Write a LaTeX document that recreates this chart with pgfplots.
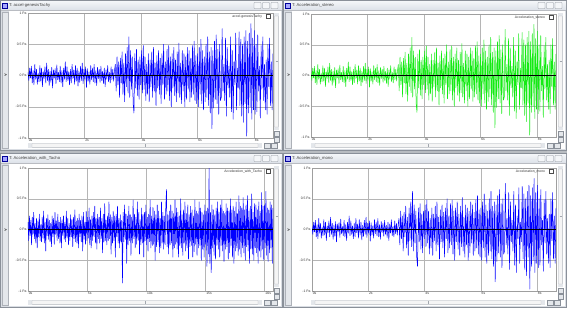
\documentclass[border=0pt]{standalone}
\usepackage{fontspec}
\setmainfont{Liberation Sans}
\usepackage{pgfplots}
\usepackage{pgfplotstable}
\pgfplotsset{compat=1.18}

\definecolor{framegray}{HTML}{D9DDE3}
\definecolor{framedark}{HTML}{8A9099}
\definecolor{titletop}{HTML}{F4F6F9}
\definecolor{titlebot}{HTML}{DCE1E8}
\definecolor{stripgray}{HTML}{E4E7EB}
\definecolor{gridgray}{HTML}{B5B5B5}
\definecolor{sigblue}{RGB}{0,0,255}
\definecolor{siggreen}{RGB}{20,235,20}

\newcommand\tickfont{\fontsize{3.4}{4}\selectfont}
\newcommand\titlefont{\fontsize{4.2}{5}\selectfont}

% main signal (0 .. 8.67 s, dt = 0.03 s)
\pgfplotstableread[row sep=\\]{y\\
0.05\\ -0.08\\ 0.12\\ -0.04\\ 0.15\\ -0.12\\ 0.08\\ -0.15\\ 0.18\\ -0.06\\
0.10\\ -0.14\\ 0.04\\ -0.10\\ 0.16\\ -0.09\\ 0.12\\ -0.18\\ 0.06\\ -0.05\\
0.14\\ -0.12\\ 0.20\\ -0.08\\ 0.10\\ -0.16\\ 0.07\\ -0.11\\ 0.13\\ -0.20\\
0.09\\ -0.04\\ 0.11\\ -0.13\\ 0.17\\ -0.07\\ 0.05\\ -0.10\\ 0.15\\ -0.12\\
0.08\\ -0.18\\ 0.12\\ -0.06\\ 0.22\\ -0.10\\ 0.14\\ -0.08\\ 0.06\\ -0.15\\
0.10\\ -0.12\\ 0.18\\ -0.05\\ 0.09\\ -0.14\\ 0.16\\ -0.09\\ 0.12\\ -0.17\\
0.07\\ -0.11\\ 0.15\\ -0.08\\ 0.20\\ -0.13\\ 0.10\\ -0.06\\ 0.14\\ -0.19\\
0.11\\ -0.09\\ 0.06\\ -0.14\\ 0.16\\ -0.07\\ 0.12\\ -0.10\\ 0.18\\ -0.12\\
0.08\\ -0.16\\ 0.13\\ -0.05\\ 0.10\\ -0.11\\ 0.15\\ -0.08\\ 0.07\\ -0.13\\
0.12\\ -0.18\\ 0.09\\ -0.06\\ 0.16\\ -0.10\\ 0.05\\ -0.12\\ 0.14\\ -0.07\\
0.10\\ -0.09\\ 0.08\\
0.18\\ -0.25\\ 0.30\\ -0.15\\ 0.22\\ -0.35\\ 0.28\\ -0.12\\ 0.38\\ -0.30\\
0.20\\ -0.42\\ 0.35\\ -0.18\\ 0.45\\ -0.28\\ 0.62\\ -0.35\\ 0.40\\ -0.22\\
0.30\\ -0.45\\ -0.60\\ 0.35\\ -0.20\\ 0.42\\ -0.32\\ 0.25\\ -0.38\\ 0.30\\
-0.15\\ 0.40\\ -0.28\\ 0.48\\ -0.22\\ 0.30\\ -0.40\\ 0.18\\ -0.30\\ 0.35\\
-0.42\\ 0.25\\ -0.18\\ 0.38\\ -0.35\\ 0.45\\ -0.25\\ 0.20\\ -0.48\\ 0.32\\
-0.20\\ 0.40\\ -0.30\\ 0.28\\ -0.45\\ 0.35\\ -0.15\\ 0.50\\ -0.38\\ 0.22\\
-0.30\\ 0.42\\ -0.25\\ 0.48\\ -0.40\\ 0.30\\ -0.50\\ 0.35\\ -0.20\\ 0.45\\
-0.32\\ 0.25\\ -0.42\\ 0.38\\ -0.28\\ 0.52\\ -0.35\\ 0.20\\ -0.45\\ 0.40\\
-0.25\\ 0.35\\ -0.50\\ 0.30\\ -0.38\\ 0.45\\ -0.22\\ 0.40\\ -0.42\\ 0.28\\
-0.35\\ 0.48\\ -0.30\\ 0.55\\ -0.40\\ 0.32\\ -0.45\\
0.35\\ -0.50\\ 0.45\\ -0.30\\ 0.58\\ -0.45\\ 0.40\\ -0.55\\ 0.30\\ -0.42\\
0.50\\ -0.35\\ 0.62\\ -0.48\\ 0.38\\ -0.60\\ 0.45\\ -0.85\\ 0.40\\ -0.52\\
0.55\\ -0.38\\ 0.65\\ -0.45\\ 0.42\\ -0.62\\ 0.50\\ -0.40\\ -0.35\\ 0.75\\
-0.25\\ 0.18\\ -0.40\\ 0.60\\ -0.65\\ 0.45\\ -0.20\\ 0.15\\ -0.35\\ 0.62\\
-0.58\\ 0.40\\ -0.70\\ 0.22\\ -0.15\\ 0.68\\ -0.55\\ 0.12\\ -0.20\\ 0.70\\
-0.48\\ 0.58\\ -0.65\\ 0.50\\ -0.75\\ 0.62\\ -0.45\\ 0.72\\ -0.97\\ 0.55\\
-0.60\\ 0.68\\ -0.50\\ 0.83\\ -0.70\\ 0.60\\ -0.55\\ 0.72\\ -0.62\\ 0.50\\
-0.58\\ 0.65\\ -0.25\\ 0.15\\ -0.68\\ 0.48\\ -0.22\\ 0.62\\ -0.40\\ 0.18\\
-0.55\\ 0.25\\ -0.62\\ 0.50\\ -0.18\\ 0.60\\ -0.48\\ 0.22\\ -0.55\\ 0.35\\
}\dataA

% tacho signal (0 .. 20.7 s, dt = 0.06 s)
\pgfplotstableread[row sep=\\]{y\\
0.12\\ -0.18\\ 0.22\\ -0.10\\ 0.15\\ -0.25\\ 0.20\\ -0.08\\ 0.28\\ -0.15\\
0.10\\ -0.22\\ 0.18\\ -0.30\\ 0.14\\ -0.12\\ 0.25\\ -0.18\\ 0.08\\ -0.20\\
0.20\\ -0.14\\ 0.30\\ -0.22\\ 0.12\\ -0.35\\ 0.18\\ -0.10\\ 0.24\\ -0.16\\
0.15\\ -0.20\\ 0.10\\ -0.28\\ 0.22\\ -0.12\\ 0.18\\ -0.24\\ 0.28\\ -0.08\\
0.14\\ -0.18\\ 0.25\\ -0.15\\ 0.12\\ -0.22\\ 0.20\\ -0.30\\ 0.16\\ -0.10\\
0.22\\ -0.16\\ 0.12\\ -0.20\\ 0.30\\ -0.14\\ 0.18\\ -0.25\\ 0.10\\ -0.18\\
0.24\\ -0.12\\ 0.16\\ -0.28\\ 0.20\\ -0.15\\ 0.32\\ -0.20\\ 0.14\\ -0.22\\
0.18\\ -0.30\\ 0.25\\ -0.12\\ 0.15\\ -0.20\\ 0.22\\ -0.35\\ 0.28\\ -0.16\\
0.12\\ -0.24\\ 0.30\\ -0.18\\ 0.20\\ -0.14\\ 0.35\\ -0.25\\ 0.16\\ -0.30\\
0.22\\ -0.18\\ 0.28\\ -0.12\\ 0.38\\ -0.22\\ 0.18\\ -0.32\\ 0.25\\ -0.15\\
0.20\\ -0.22\\ 0.35\\ -0.15\\ 0.18\\ -0.38\\ 0.25\\ -0.20\\ 0.42\\ -0.18\\
0.15\\ -0.25\\ 0.22\\ -0.18\\ 0.45\\ -0.15\\ 0.24\\ -0.40\\ 0.20\\ -0.22\\
0.30\\ -0.18\\ 0.22\\ -0.45\\ 0.25\\ -0.12\\ 0.38\\ -0.22\\ 0.18\\ -0.30\\
0.24\\ -0.20\\ 0.15\\ -0.87\\ 0.28\\ -0.20\\ 0.40\\ -0.16\\ 0.25\\ -0.55\\
0.22\\ -0.25\\ 0.38\\ -0.18\\ 0.24\\ -0.42\\ 0.20\\ -0.22\\ 0.48\\ -0.15\\
0.25\\ -0.30\\ 0.20\\ -0.24\\ 0.45\\ -0.18\\ 0.28\\ -0.40\\ 0.16\\ -0.25\\
0.35\\ -0.22\\ 0.24\\ -0.45\\ 0.28\\ -0.18\\ 0.40\\ -0.25\\ 0.20\\ -0.35\\
0.25\\ -0.20\\ 0.48\\ -0.30\\ 0.22\\ -0.26\\ 0.36\\ -0.24\\ 0.30\\ -0.50\\
0.24\\ -0.28\\ 0.40\\ -0.20\\ 0.30\\ -0.38\\ 0.18\\ -0.30\\ 0.45\\ -0.22\\
0.28\\ -0.32\\ 0.22\\ -0.25\\ 0.36\\ 0.65\\ -0.28\\ 0.24\\ -0.40\\ 0.30\\
-0.25\\ 0.40\\ -0.22\\ 0.30\\ -0.45\\ 0.26\\ -0.30\\ 0.48\\ -0.24\\ 0.35\\
-0.32\\ 0.28\\ -0.45\\ 0.22\\ -0.26\\ 0.50\\ -0.30\\ 0.24\\ -0.42\\ 0.32\\
-0.22\\ 0.45\\ -0.35\\ 0.26\\ -0.30\\ 0.40\\ -0.48\\ 0.24\\ -0.28\\ 0.38\\
-0.26\\ 0.32\\ -0.45\\ 0.22\\ -0.36\\ 0.48\\ -0.24\\ 0.30\\ -0.42\\ 0.26\\
-0.30\\ 0.45\\ -0.26\\ 0.35\\ -0.50\\ 0.28\\ -0.32\\ 0.24\\ -0.45\\ 0.40\\
-0.24\\ 0.30\\ -0.60\\ 0.35\\ -0.40\\ 1.00\\ -0.55\\ 0.28\\ -0.70\\ 0.40\\
-0.30\\ 0.32\\ -0.42\\ 0.24\\ -0.48\\ 0.35\\ -0.26\\ 0.45\\ -0.32\\ 0.28\\
-0.45\\ 0.40\\ -0.26\\ 0.48\\ -0.35\\ 0.30\\ -0.52\\ 0.26\\ -0.32\\ 0.42\\
-0.28\\ 0.35\\ -0.48\\ 0.30\\ -0.38\\ 0.50\\ -0.26\\ 0.32\\ -0.45\\ 0.38\\
-0.55\\ 0.30\\ -0.35\\ 0.45\\ -0.30\\ 0.26\\ -0.42\\ 0.55\\ -0.32\\ 0.38\\
-0.45\\ 0.35\\ -0.30\\ 0.52\\ -0.38\\ 0.32\\ -0.50\\ 0.40\\ -0.28\\ 0.55\\
-0.35\\ 0.30\\ -0.55\\ 0.38\\ -0.32\\ 0.58\\ -0.40\\ 0.28\\ -0.50\\ 0.42\\
-0.30\\ 0.40\\ -0.38\\ 0.32\\ -0.55\\ 0.45\\ -0.35\\ 0.30\\ -0.45\\ 0.60\\
-0.32\\ 0.38\\ -0.50\\ 0.40\\ -0.30\\ 0.62\\ -0.42\\ 0.35\\ -0.52\\ 0.32\\
-0.38\\ 0.45\\ -0.30\\ 0.40\\ -0.55\\ 0.35\\
}\dataC

\newcommand\panel[5]{%
\begin{scope}[shift={(#1,#2)}]
 \fill[framegray] (0,0) rectangle (#3,#4);
 \draw[framedark, line width=0.5pt] (0.5,0.5) rectangle (#3-0.5,#4-0.5);
 \shade[top color=titletop, bottom color=titlebot] (1,1) rectangle (#3-1,10);
 \draw[framedark!60, line width=0.3pt] (1,10) -- (#3-1,10);
 \fill[blue!35!white] (2.5,3) rectangle (7,8);
 \draw[blue!60!black, line width=0.3pt] (2.5,3) rectangle (7,8);
 \node[anchor=west, inner sep=0pt, font=\titlefont, text=black!75] at (9,5.6) {#5};
 \foreach \bx in {0,1,2} {%
   \draw[framedark, fill=titletop, line width=0.3pt, rounded corners=0.6pt] (#3-29+\bx*8.5,2.5) rectangle (#3-22+\bx*8.5,8.5);}
 \fill[stripgray] (2.5,12) rectangle (8.5,#4-3);
 \draw[framedark!70, line width=0.3pt] (2.5,12) rectangle (8.5,#4-3);
 \node[font=\titlefont\bfseries, inner sep=0pt] at (5.5,#4/2) {>};
 \fill[white] (9,11) rectangle (#3-2,#4-2);
 % vertical scrollbar
 \fill[stripgray] (#3-9,13) rectangle (#3-4,#4-21);
 \draw[framedark!60, fill=white!92!gray, line width=0.3pt, rounded corners=0.6pt] (#3-8.6,16) rectangle (#3-4.4,#4-24);
 \draw[framedark!80, line width=0.3pt] (#3-7.5,#4/2-14) -- (#3-5.5,#4/2-14);
 \draw[framedark, fill=stripgray, line width=0.3pt] (#3-9,#4-19.5) rectangle (#3-4,#4-14.5);
 \draw[framedark, fill=stripgray, line width=0.3pt] (#3-9,#4-14) rectangle (#3-4,#4-9);
 % horizontal scrollbar
 \fill[stripgray] (28,#4-8) rectangle (262,#4-3);
 \draw[framedark!60, fill=white!92!gray, line width=0.3pt, rounded corners=0.6pt] (32,#4-7.6) rectangle (258,#4-3.4);
 \draw[framedark!80, line width=0.3pt] (145,#4-7) -- (145,#4-4);
 \draw[framedark, fill=stripgray, line width=0.3pt] (264,#4-8) rectangle (270,#4-3);
 \draw[framedark, fill=stripgray, line width=0.3pt] (271,#4-8) rectangle (277,#4-3);
\end{scope}}

\pgfplotsset{panelax/.style={
  scale only axis, anchor=north west,
  ymin=-1, ymax=1,
  ytick={-1,-0.5,0,0.5,1},
  yticklabels={-1 Pa,-0.5 Pa,0 Pa,0.5 Pa,1 Pa},
  grid=major,
  major grid style={gridgray, line width=0.45pt},
  axis line style={gray!75, line width=0.4pt},
  major tick length=0pt,
  tick label style={font=\tickfont, text=black!80},
  xticklabel style={anchor=north west, inner sep=0.6pt},
  yticklabel style={inner sep=1.2pt},
  axis background/.style={fill=white},
  every axis plot/.append style={line width=0.5pt, line join=round},
}}

\newcommand\legbox[1]{%
  \node[anchor=north east, inner sep=0.5pt, font=\tickfont, text=black!80] at (rel axis cs:0.958,0.99) {#1};
  \node[anchor=north east, draw=black!70, line width=0.3pt, minimum width=4pt, minimum height=4pt, inner sep=0pt] at (rel axis cs:0.99,0.992) {};
}

\begin{document}
\begin{tikzpicture}
\begin{scope}[x=1pt,y=-1pt]
 \fill[framegray!85!black] (0,0) rectangle (567,308);
 \panel{0}{0}{283}{151}{T: accel-genesisTachy}
 \panel{283}{0}{284}{151}{T: Acceleration\_stereo}
 \panel{0}{153}{283}{155}{T: Acceleration\_with\_Tacho}
 \panel{283}{153}{284}{155}{T: Acceleration\_mono}
\end{scope}

% panel 1
\begin{axis}[panelax, at={(28pt,-13pt)}, width=245pt, height=125pt,
  xmin=0, xmax=8.67, xtick={0,2,4,6,8}, xticklabels={0s,2s,4s,6s,8s}]
  \addplot[sigblue] table[x expr=\coordindex*0.03, y index=0] {\dataA};
  \draw[black, line width=0.4pt] (axis cs:0,0) -- (axis cs:8.67,0);
  \legbox{accel-genesisTachy}
\end{axis}

% panel 2
\begin{axis}[panelax, at={(311pt,-14pt)}, width=245pt, height=123pt,
  xmin=0, xmax=8.67, xtick={0,2,4,6,8}, xticklabels={0s,2s,4s,6s,8s}]
  \addplot[siggreen] table[x expr=\coordindex*0.03, y index=0] {\dataA};
  \draw[black, line width=0.4pt] (axis cs:0,0) -- (axis cs:8.67,0);
  \legbox{Acceleration\_stereo}
\end{axis}

% panel 3
\begin{axis}[panelax, at={(28pt,-168pt)}, width=245pt, height=123pt,
  xmin=0, xmax=20.7, xtick={0,5,10,15,20}, xticklabels={0s,5s,10s,15s,20s}]
  \addplot[sigblue] table[x expr=\coordindex*0.06, y index=0] {\dataC};
  \draw[black, line width=0.4pt] (axis cs:0,0) -- (axis cs:20.7,0);
  \legbox{Acceleration\_with\_Tacho}
\end{axis}

% panel 4
\begin{axis}[panelax, at={(312pt,-168pt)}, width=244pt, height=123pt,
  xmin=0, xmax=8.67, xtick={0,2,4,6,8}, xticklabels={0s,2s,4s,6s,8s}]
  \addplot[sigblue] table[x expr=\coordindex*0.03, y index=0] {\dataA};
  \draw[black, line width=0.4pt] (axis cs:0,0) -- (axis cs:8.67,0);
  \legbox{Acceleration\_mono}
\end{axis}
\end{tikzpicture}
\end{document}
